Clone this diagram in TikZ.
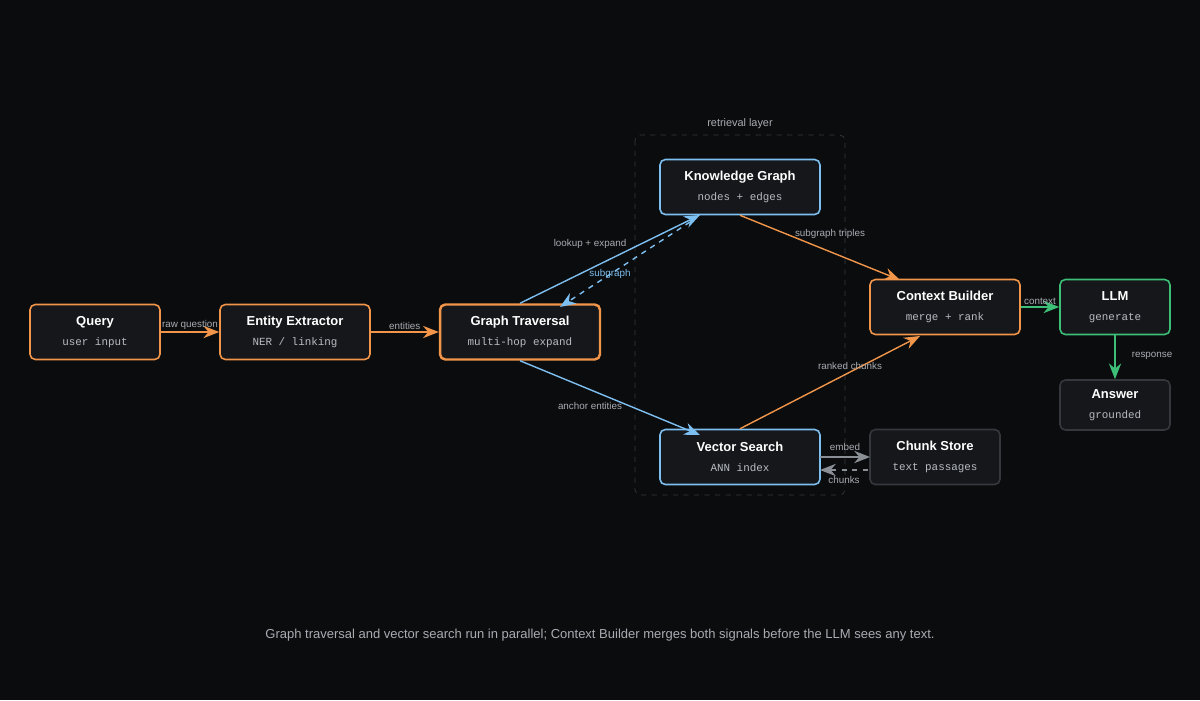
\documentclass[tikz,border=0pt]{standalone}
\usepackage{fontspec}
\setmainfont{Liberation Sans}
\setmonofont{Liberation Mono}
\usetikzlibrary{arrows.meta}

\definecolor{bgc}{HTML}{0B0C0E}
\definecolor{boxc}{HTML}{15171B}
\definecolor{orng}{HTML}{F0954A}
\definecolor{blu}{HTML}{7DBFF0}
\definecolor{grn}{HTML}{3DBF78}
\definecolor{gry}{HTML}{8A8F96}
\definecolor{dkgry}{HTML}{34373C}
\definecolor{subc}{HTML}{B8BCC2}
\definecolor{lblc}{HTML}{A8ACB2}

\tikzset{
  box/.style={draw, fill=boxc, rounded corners=3pt, line width=0.9pt,
    minimum height=1.1cm, align=center, inner sep=0pt},
  lbl/.style={font=\fontsize{5.6}{6}\selectfont, text=lblc, inner sep=1pt},
  arr/.style={-{Stealth[length=9pt,width=7pt]}, line width=0.8pt},
}
\newcommand{\boxtext}[2]{{\fontsize{7.4}{9}\selectfont\bfseries\color{white}#1}\\[-1pt]{\fontsize{6.2}{8}\selectfont\ttfamily\color{subc}#2}}

\begin{document}
\begin{tikzpicture}[x=0.02cm,y=-0.02cm]
\fill[bgc] (0,0) rectangle (1200,700);
\useasboundingbox (0,0) rectangle (1200,700);

%group
\draw[dkgry, dashed, rounded corners=3pt] (635,135) rectangle (845,495);
\node[lbl, font=\fontsize{6.2}{7}\selectfont] (grp) at (740,124) {retrieval layer};

%nodes
\node[box, draw=orng, minimum width=2.6cm] (query) at (95,332) {\boxtext{Query}{user input}};
\node[box, draw=orng, minimum width=3.0cm] (extract) at (295,332) {\boxtext{Entity Extractor}{NER / linking}};
\node[box, draw=orng, line width=1.4pt, minimum width=3.2cm] (trav) at (520,332) {\boxtext{Graph Traversal}{multi-hop expand}};
\node[box, draw=blu, minimum width=3.2cm] (kg) at (740,187) {\boxtext{Knowledge Graph}{nodes + edges}};
\node[box, draw=blu, minimum width=3.2cm] (vec) at (740,457) {\boxtext{Vector Search}{ANN index}};
\node[box, draw=dkgry, minimum width=2.6cm] (chunk) at (935,457) {\boxtext{Chunk Store}{text passages}};
\node[box, draw=orng, minimum width=3.0cm] (ctx) at (945,307) {\boxtext{Context Builder}{merge + rank}};
\node[box, draw=grn, minimum width=2.2cm] (llm) at (1115,307) {\boxtext{LLM}{generate}};
\node[box, draw=dkgry, minimum width=2.2cm, minimum height=1.0cm] (ans) at (1115,405) {\boxtext{Answer}{grounded}};

%edges
\draw[arr, orng] (query) -- node[lbl, above] {raw question} (extract);
\draw[arr, orng] (extract) -- node[lbl, above] {entities} (trav);
\draw[arr, blu] (trav.north) -- (700,215);
\draw[arr, blu, dashed] (690,222) -- (560,307);
\draw[arr, blu] (trav.south) -- (700,435);
\draw[arr, orng] (kg.south) -- (900,280);
\draw[arr, orng] (vec.north) -- (920,336);
\draw[arr, gry] (820,457) -- node[lbl, above=2pt] {embed} (870,457);
\draw[arr, gry, dashed] (868,470) -- node[lbl, below=2pt] {chunks} (820,470);
\draw[arr, grn] (ctx) -- node[lbl, above] {context} (llm);
\draw[arr, grn] (llm) -- (ans);

%edge labels
\node[lbl] (l1) at (590,244) {lookup + expand};
\node[lbl, text=blu] (l2) at (610,274) {subgraph};
\node[lbl] (l3) at (590,406) {anchor entities};
\node[lbl] (l4) at (830,234) {subgraph triples};
\node[lbl] (l5) at (850,366) {ranked chunks};
\node[lbl] (l6) at (1152,356) {response};

%caption
\node[font=\fontsize{7.4}{9}\selectfont, text=lblc] (cap) at (600,635) {Graph traversal and vector search run in parallel; Context Builder merges both signals before the LLM sees any text.};
\end{tikzpicture}
\end{document}
